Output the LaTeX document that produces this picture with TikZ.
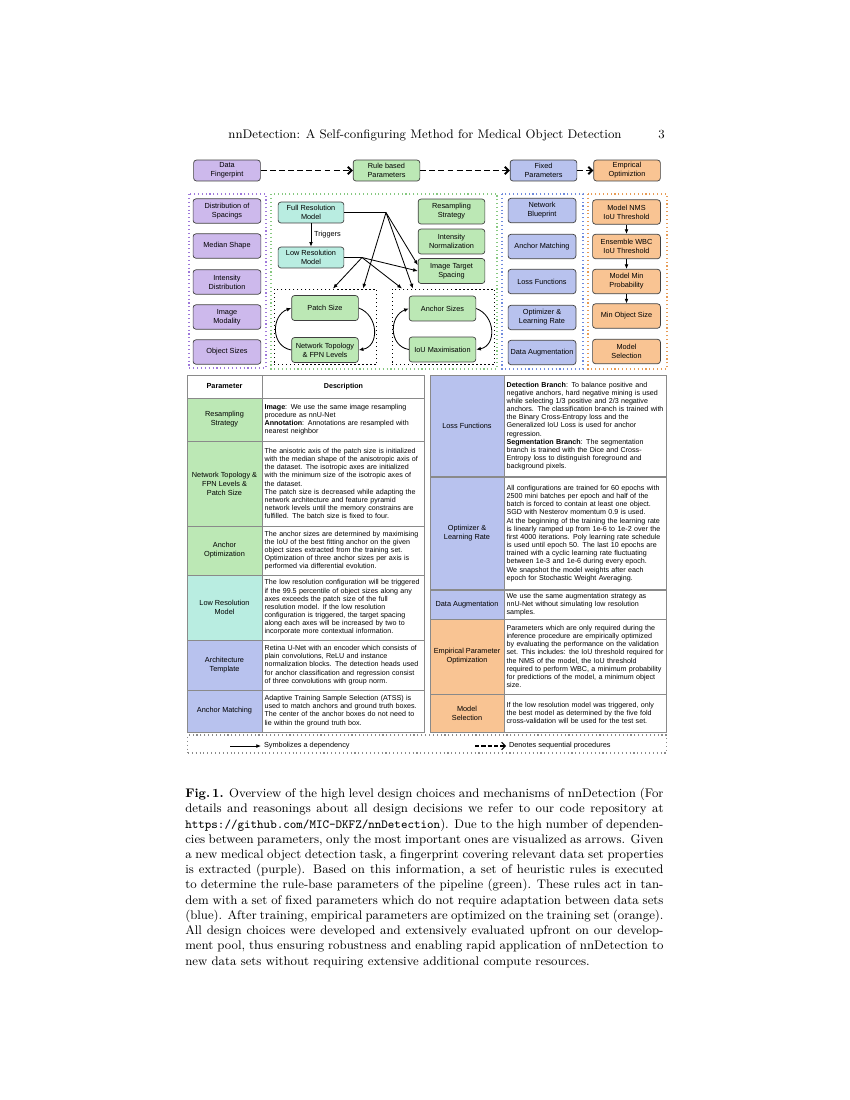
\documentclass[tikz,border=0pt]{standalone}
\usepackage{fontspec}
\newfontfamily\figfont{Liberation Sans}
\newcommand\descfont{\figfont\fontsize{5.15}{5.9}\selectfont\hyphenpenalty 10000\relax}
\usetikzlibrary{arrows.meta}
\definecolor{PurpleF}{HTML}{CDB9EC}
\definecolor{GreenF}{HTML}{BCE8B5}
\definecolor{TealF}{HTML}{B9EDE1}
\definecolor{BlueF}{HTML}{B8C2EE}
\definecolor{OrangeF}{HTML}{F9C493}
\definecolor{BoxLine}{HTML}{404040}
\definecolor{PurpleD}{HTML}{9E78DA}
\definecolor{GreenD}{HTML}{86C880}
\definecolor{BlueD}{HTML}{6F8BDD}
\definecolor{OrangeD}{HTML}{E79B55}
\definecolor{TabLine}{HTML}{8A8A8A}

\begin{document}
\begin{tikzpicture}[
  x=0.254mm, y=-0.254mm,
  box/.style={draw=BoxLine, line width=0.5pt, rounded corners=2pt, align=center,
              inner sep=1pt, font=\figfont\fontsize{5.3}{6.5}\selectfont},
  topbox/.style={box, minimum width=48.2pt, minimum height=15.1pt},
  colbox/.style={box, minimum width=49pt, minimum height=17.6pt},
  resbox/.style={box, fill=TealF, minimum width=47.5pt, minimum height=15.1pt},
  grnbox/.style={box, fill=GreenF, minimum width=48.2pt, minimum height=18pt},
  grpbox/.style={draw, dotted, line width=0.9pt, minimum width=74.2pt, minimum height=54.7pt},
  contr/.style={dotted, line width=0.8pt},
  seq/.style={-{Straight Barb[length=2.6pt,width=5.4pt]}, line width=1.4pt,
              dash pattern=on 4.2pt off 2.4pt},
  dep/.style={-{Latex[length=3.4pt,width=2.8pt]}, line width=0.6pt},
  pcell/.style={draw=TabLine, line width=0.5pt, align=center, inner sep=1pt,
                font=\figfont\fontsize{5.3}{6.5}\selectfont},
  dcell/.style={draw=TabLine, line width=0.5pt, align=left, text width=114pt,
                inner xsep=1.7pt, inner ysep=1pt, font=\descfont},
  lgtxt/.style={anchor=west, inner xsep=2pt, inner ysep=0pt, font=\figfont\fontsize{5.3}{6.5}\selectfont}
]
  \path[fill=white] (0,0) rectangle (850,1100);

  % running head
  \node[anchor=base, inner sep=0pt, font=\fontsize{9}{11}\selectfont] (head) at (425,138.5)
    {nnDetection: A Self-configuring Method for Medical Object Detection};
  \node[anchor=base east, inner sep=0pt, font=\fontsize{9}{11}\selectfont] (pgno) at (665,138.5) {3};

  % top row
  \node[topbox, fill=PurpleF] (fing) at (227,170.5)   {Data\\Fingerpint};
  \node[topbox, fill=GreenF]  (rule) at (386.5,170.5) {Rule based\\Parameters};
  \node[topbox, fill=BlueF]   (fixd) at (543.5,170.5) {Fixed\\Parameters};
  \node[topbox, fill=OrangeF] (empo) at (627,170.5)   {Emprical\\Optimiztion};
  \draw[seq] (fing.east) -- (rule.west);
  \draw[seq] (rule.east) -- (fixd.west);
  \draw[seq] (fixd.east) -- (empo.west);

  % containers
  \draw[contr, PurpleD] (189,194) rectangle (266,368);
  \draw[contr, GreenD]  (271,194) rectangle (497,369);
  \draw[contr, BlueD]   (502,194) rectangle (583,369);
  \draw[contr, OrangeD] (588,194) rectangle (667,369);

  % data fingerprint
  \node[colbox, fill=PurpleF] (pu1) at (227,211) {Distribution of\\Spacings};
  \node[colbox, fill=PurpleF] (pu2) at (227,246) {Median Shape};
  \node[colbox, fill=PurpleF] (pu3) at (227,282) {Intensity\\Distribution};
  \node[colbox, fill=PurpleF] (pu4) at (227,317) {Image\\Modality};
  \node[colbox, fill=PurpleF] (pu5) at (227,352) {Object Sizes};

  % rule based parameters
  \node[resbox] (full) at (311,212.5) {Full Resolution\\Model};
  \node[resbox] (lowr) at (311,257.5) {Low Resolution\\Model};
  \node[grnbox] (resa) at (451.5,211.5) {Resampling\\Strategy};
  \node[grnbox] (inno) at (451.5,241.5) {Intensity\\Normalization};
  \node[grnbox] (itsp) at (451.5,271)   {Image Target\\Spacing};
  \node[grpbox] (psgrp) at (325.5,327) {};
  \node[grpbox] (angrp) at (443.5,327) {};
  \node[grnbox] (patc) at (325,308)   {Patch Size};
  \node[grnbox] (ntop) at (325,350)   {Network Topology\\\& FPN Levels};
  \node[grnbox] (ancs) at (442.5,308.5) {Anchor Sizes};
  \node[grnbox] (ioum) at (442.5,349.5) {IoU Maximisation};

  \draw[dep] (full) -- (lowr) node[midway, right=2pt, inner sep=0pt,
    font=\figfont\fontsize{5.3}{6.5}\selectfont] (trig) {Triggers};
  \coordinate (j1) at (386,212.5);
  \coordinate (j2) at (362,257.5);
  \draw[line width=0.6pt] (full.east) -- (j1);
  \draw[line width=0.6pt] (lowr.east) -- (j2);
  \draw[dep] (j1) -- (363,0 |- psgrp.north);
  \draw[dep] (j1) -- (itsp.170);
  \draw[dep] (j1) -- (413,0 |- angrp.north);
  \draw[dep] (j2) -- (333,0 |- psgrp.north);
  \draw[dep] (j2) -- (itsp.west);
  \draw[dep] (j2) -- (402,0 |- angrp.north);
  \draw[dep] (ntop.west) to[out=170, in=200, looseness=1.3] (patc.west);
  \draw[dep] (patc.east) to[out=-20, in=10, looseness=1.3] (ntop.east);
  \draw[dep] (ioum.west) to[out=170, in=200, looseness=1.3] (ancs.west);
  \draw[dep] (ancs.east) to[out=-20, in=10, looseness=1.3] (ioum.east);

  % fixed parameters
  \node[colbox, fill=BlueF] (bl1) at (542,210.5) {Network\\Blueprint};
  \node[colbox, fill=BlueF] (bl2) at (542,246.5) {Anchor Matching};
  \node[colbox, fill=BlueF] (bl3) at (542,281.5) {Loss Functions};
  \node[colbox, fill=BlueF] (bl4) at (542,317.5) {Optimizer \&\\Learning Rate};
  \node[colbox, fill=BlueF] (bl5) at (542,352.5) {Data Augmentation};

  % empirical optimization
  \node[colbox, fill=OrangeF] (or1) at (626.5,212)   {Model NMS\\IoU Threshold};
  \node[colbox, fill=OrangeF] (or2) at (626.5,246.5) {Ensemble WBC\\IoU Threshold};
  \node[colbox, fill=OrangeF] (or3) at (626.5,281.5) {Model Min\\Probability};
  \node[colbox, fill=OrangeF] (or4) at (626.5,316)   {Min Object Size};
  \node[colbox, fill=OrangeF] (or5) at (626.5,351.5) {Model\\Selection};
  \draw[dep] (or1) -- (or2);
  \draw[dep] (or2) -- (or3);
  \draw[dep] (or3) -- (or4);

  % left table
  \node[pcell, minimum width=54pt, minimum height=16.6pt] (th1) at (224.5,386.5) {\bfseries Parameter};
  \node[dcell, minimum height=16.6pt, align=center] (th2) at (343.5,386.5) {\bfseries Description};
  \node[pcell, fill=GreenF, minimum width=54pt, minimum height=31pt] (lp1) at (224.5,419.5) {Resampling\\Strategy};
  \node[dcell, minimum height=31pt] (ld1) at (343.5,419.5)
    {\textbf{Image}: We use the same image resampling\\
     procedure as nnU-Net\\
     \textbf{Annotation}: Annotations are resampled with\\
     nearest neighbor};
  \node[pcell, fill=GreenF, minimum width=54pt, minimum height=61.2pt] (lp2) at (224.5,483.5)
    {Network Topology \&\\FPN Levels \&\\Patch Size};
  \node[dcell, minimum height=61.2pt] (ld2) at (343.5,483.5)
    {The anisotric axis of the patch size is initialized\\
     with the median shape of the anisotropic axis of\\
     the dataset. The isotropic axes are initialized\\
     with the minimum size of the isotropic axes of\\
     the dataset.\\
     The patch size is decreased while adapting the\\
     network architecture and feature pyramid\\
     network levels until the memory constrains are\\
     fulfilled. The batch size is fixed to four.};
  \node[pcell, fill=GreenF, minimum width=54pt, minimum height=35.3pt] (lp3) at (224.5,550.5) {Anchor\\Optimization};
  \node[dcell, minimum height=35.3pt] (ld3) at (343.5,550.5)
    {The anchor sizes are determined by maximising\\
     the IoU of the best fitting anchor on the given\\
     object sizes extracted from the training set.\\
     Optimization of three anchor sizes per axis is\\
     performed via differential evolution.};
  \node[pcell, fill=TealF, minimum width=54pt, minimum height=46.8pt] (lp4) at (224.5,607.5) {Low Resolution\\Model};
  \node[dcell, minimum height=46.8pt] (ld4) at (343.5,607.5)
    {The low resolution configuration will be triggered\\
     if the 99.5 percentile of object sizes along any\\
     axes exceeds the patch size of the full\\
     resolution model. If the low resolution\\
     configuration is triggered, the target spacing\\
     along each axes will be increased by two to\\
     incorporate more contextual information.};
  \node[pcell, fill=BlueF, minimum width=54pt, minimum height=36pt] (lp5) at (224.5,665) {Architecture\\Template};
  \node[dcell, minimum height=36pt] (ld5) at (343.5,665)
    {Retina U-Net with an encoder which consists of\\
     plain convolutions, ReLU and instance\\
     normalization blocks. The detection heads used\\
     for anchor classification and regression consist\\
     of three convolutions with group norm.};
  \node[pcell, fill=BlueF, minimum width=54pt, minimum height=30.2pt] (lp6) at (224.5,711) {Anchor Matching};
  \node[dcell, minimum height=30.2pt] (ld6) at (343.5,711)
    {Adaptive Training Sample Selection (ATSS) is\\
     used to match anchors and ground truth boxes.\\
     The center of the anchor boxes do not need to\\
     lie within the ground truth box.};

  % right table
  \node[pcell, fill=BlueF, minimum width=53.3pt, minimum height=73.4pt] (rp1) at (467,426) {Loss Functions};
  \node[dcell, minimum height=73.4pt] (rd1) at (585.5,426)
    {\textbf{Detection Branch}: To balance positive and\\
     negative anchors, hard negative mining is used\\
     while selecting 1/3 positive and 2/3 negative\\
     anchors. The classification branch is trained with\\
     the Binary Cross-Entropy loss and the\\
     Generalized IoU Loss is used for anchor\\
     regression.\\
     \textbf{Segmentation Branch}: The segmentation\\
     branch is trained with the Dice and Cross-\\
     Entropy loss to distinguish foreground and\\
     background pixels.};
  \node[pcell, fill=BlueF, minimum width=53.3pt, minimum height=81.4pt] (rp2) at (467,533.5) {Optimizer \&\\Learning Rate};
  \node[dcell, minimum height=81.4pt] (rd2) at (585.5,533.5)
    {All configurations are trained for 60 epochs with\\
     2500 mini batches per epoch and half of the\\
     batch is forced to contain at least one object.\\
     SGD with Nesterov momentum 0.9 is used.\\
     At the beginning of the training the learning rate\\
     is linearly ramped up from 1e-6 to 1e-2 over the\\
     first 4000 iterations. Poly learning rate schedule\\
     is used until epoch 50. The last 10 epochs are\\
     trained with a cyclic learning rate fluctuating\\
     between 1e-3 and 1e-6 during every epoch.\\
     We snapshot the model weights after each\\
     epoch for Stochastic Weight Averaging.};
  \node[pcell, fill=BlueF, minimum width=53.3pt, minimum height=20.9pt] (rp3) at (467,604.5) {Data Augmentation};
  \node[dcell, minimum height=20.9pt] (rd3) at (585.5,604.5)
    {We use the same augmentation strategy as\\
     nnU-Net without simulating low resolution\\
     samples.};
  \node[pcell, fill=OrangeF, minimum width=53.3pt, minimum height=54pt] (rp4) at (467,656.5) {Empirical Parameter\\Optimization};
  \node[dcell, minimum height=54pt] (rd4) at (585.5,656.5)
    {Parameters which are only required during the\\
     inference procedure are empirically optimized\\
     by evaluating the performance on the validation\\
     set. This includes: the IoU threshold required for\\
     the NMS of the model, the IoU threshold\\
     required to perform WBC, a minimum probability\\
     for predictions of the model, a minimum object\\
     size.};
  \node[pcell, fill=OrangeF, minimum width=53.3pt, minimum height=27.4pt] (rp5) at (467,713) {Model\\Selection};
  \node[dcell, minimum height=27.4pt] (rd5) at (585.5,713)
    {If the low resolution model was triggered, only\\
     the best model as determined by the five fold\\
     cross-validation will be used for the test set.};

  % legend
  \node[draw=TabLine, dotted, line width=0.8pt, minimum width=345.6pt, minimum height=13pt,
        inner sep=0pt] (lgbox) at (427,744) {};
  \coordinate (lgdep) at (230,746);
  \node[lgtxt] (lgdeptxt) at (261,746) {Symbolizes a dependency};
  \draw[dep] (lgdep) -- (lgdeptxt.west);
  \coordinate (lgseq) at (475,746);
  \node[lgtxt] (lgseqtxt) at (506,746) {Denotes sequential procedures};
  \draw[seq, line width=0.8pt, dash pattern=on 3pt off 1.6pt] (lgseq) -- (lgseqtxt.west);

  % caption
  \node[anchor=north west, text width=345.6pt, inner sep=0pt, align=justify,
        font=\fontsize{9}{11}\selectfont] (capt) at (185,788)
    {\noindent\textbf{Fig.\,1.} Overview of the high level design choices and mechanisms of nnDetection (For\linebreak
     details and reasonings about all design decisions we refer to our code repository at\linebreak
     \texttt{https://github.com/MIC-DKFZ/nnDetection}). Due to the high number of dependen-\linebreak
     cies between parameters, only the most important ones are visualized as arrows. Given\linebreak
     a new medical object detection task, a fingerprint covering relevant data set properties\linebreak
     is extracted (purple). Based on this information, a set of heuristic rules is executed\linebreak
     to determine the rule-base parameters of the pipeline (green). These rules act in tan-\linebreak
     dem with a set of fixed parameters which do not require adaptation between data sets\linebreak
     (blue). After training, empirical parameters are optimized on the training set (orange).\linebreak
     All design choices were developed and extensively evaluated upfront on our develop-\linebreak
     ment pool, thus ensuring robustness and enabling rapid application of nnDetection to\linebreak
     new data sets without requiring extensive additional compute resources.};
\end{tikzpicture}
\end{document}
